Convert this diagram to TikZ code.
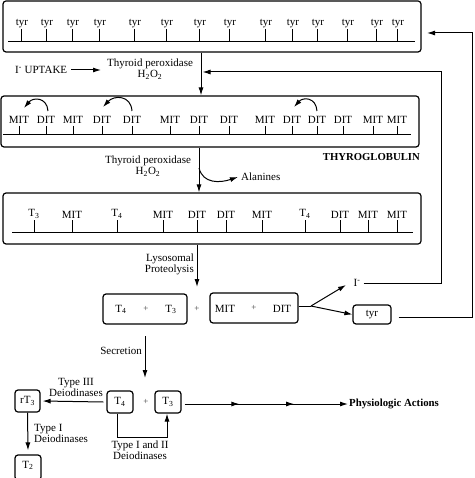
\documentclass[tikz,border=0pt]{standalone}
\usepackage{fontspec}
\setmainfont{Liberation Serif}
\usetikzlibrary{arrows.meta,calc,decorations.markings}
\begin{document}
\begin{tikzpicture}[x=1pt,y=-1pt,
  font=\fontsize{11}{12.5}\selectfont,
  lw/.style={line width=1pt},
  box/.style={draw,line width=1.2pt,rounded corners=3pt,inner sep=0pt},
  arr/.style={line width=1pt,-{Latex[length=8pt,width=5pt]}},
  lbl/.style={inner sep=0.5pt,anchor=south},
  txt/.style={inner sep=0pt,align=center},
  plus/.style={inner sep=0pt,font=\fontsize{9}{10}\selectfont,text=black!75},
]
\useasboundingbox (0,0) rectangle (474,478);

% ---------- Box 1: tyr chain ----------
\node[box,minimum width=418pt,minimum height=51pt] (tg1) at (212,26.5) {};
\draw[lw] (8,42) -- (415,42);
\foreach \x in {21,46,72,99,134,166,199,229,265,292,317,347,376,397}{
  \draw[lw] (\x,29) -- (\x,42);
  \node[lbl] (ty\x) at (\x+1,28.5) {tyr};
}

% ---------- between box 1 and 2 ----------
\coordinate (ax1) at (201,0);
\node[txt] (tp1) at (150,69) {Thyroid peroxidase\\[-1.5pt]H\textsubscript{2}O\textsubscript{2}};
\node[txt,anchor=west] (iup) at (15,70) {I\textsuperscript{-} UPTAKE};
\coordinate (iupend) at (101,70);
\draw[arr] (iup.east) ++(4,0) -- (iupend);

% ---------- Box 2 ----------
\node[box,minimum width=418pt,minimum height=51pt] (tg2) at (210,121.5) {};
\draw[arr] (tg1.south -| ax1) -- (tg2.north -| ax1);
\draw[lw] (3,135) -- (411,135);
\foreach \x/\l in {19/MIT,46/DIT,73/MIT,102/DIT,132/DIT,170/MIT,199/DIT,229/DIT,265/MIT,292/DIT,317/DIT,343/DIT,373/MIT,397/MIT}{
  \draw[lw] (\x,126) -- (\x,135);
  \node[lbl] (m\x) at (\x,124.5) {\l};
}
\draw[arr] (48,111) .. controls (47,97) and (33,97) .. (24,108);
\draw[arr] (132,111) .. controls (131,95) and (114,95) .. (103,107);
\draw[arr] (317,111) .. controls (316,97) and (303,97) .. (294,107);
\node[anchor=east,inner sep=0pt,font=\fontsize{10.7}{12}\selectfont\bfseries] (thg) at (420,157) {THYROGLOBULIN};

% ---------- between box 2 and 3 ----------
\coordinate (ax2) at (199,0);
\node[txt] (tp2) at (148,166.5) {Thyroid peroxidase\\[-1.5pt]H\textsubscript{2}O\textsubscript{2}};
\node[txt,anchor=west] (ala) at (241,177) {Alanines};
\coordinate (alastart) at (199,168);
\draw[arr] (alastart) .. controls (203,184) and (220,183) .. ($(ala.west)+(-3,0)$);

% ---------- Box 3 ----------
\node[box,minimum width=418pt,minimum height=51pt] (tg3) at (212,218.5) {};
\draw[arr] (tg2.south -| ax2) -- (tg3.north -| ax2);
\draw[lw] (12,232) -- (413,232);
\foreach \x/\l in {34/T\textsubscript{3},72/MIT,117/T\textsubscript{4},163/MIT,197/DIT,226/DIT,262/MIT,305/T\textsubscript{4},340/DIT,368/MIT,397/MIT}{
  \draw[lw] (\x,220) -- (\x,232);
  \node[lbl] (n\x) at (\x,219) {\l};
}

% ---------- Lysosomal proteolysis ----------
\coordinate (ax3) at (197,0);
\node[txt,align=right,anchor=east] (lys) at (194,264.5) {Lysosomal\\[-1.5pt]Proteolysis};
\node[plus] (plus1) at (197,309) {+};
\coordinate (lysend) at (197,287);
\draw[arr] (tg3.south -| ax3) -- (lysend);

% ---------- Box 4 & 5 ----------
\node[box,minimum width=84pt,minimum height=30pt] (ttbox) at (145,309) {};
\node[inner sep=0pt] (t4a) at (121,309.5) {T\textsubscript{4}};
\node[plus] (p4) at (146,309) {+};
\node[inner sep=0pt] (t3a) at (171,309.5) {T\textsubscript{3}};

\node[box,minimum width=88pt,minimum height=30pt] (mdbox) at (254,308) {};
\node[inner sep=0pt] (mit5) at (225,308.5) {MIT};
\node[plus] (p5) at (254,308) {+};
\node[inner sep=0pt] (dit5) at (282,308.5) {DIT};

% ---------- branch ----------
\coordinate (branch) at (311,306);
\node[inner sep=0pt] (iminus) at (357,283) {I\textsuperscript{-}};
\node[box,minimum width=38pt,minimum height=19pt] (tyrbox) at (372,314.5) {tyr};
\draw[lw] (mdbox.east |- branch) -- (branch);
\draw[arr] (branch) -- (346,285);
\draw[arr] (branch) -- (tyrbox.west);

% ---------- feedback lines ----------
\coordinate (fbI) at (441,72);
\coordinate (fbIend) at (202.5,72);
\draw[arr] ($(iminus.east)+(3,0)$) -| (fbI) -- (fbIend);
\coordinate (fbT) at (472,33);
\coordinate (fbTend) at (427,33);
\draw[arr] ($(tyrbox.east)+(7,2.5)$) -| (fbT) -- (fbTend);

% ---------- Secretion ----------
\node[txt,anchor=east] (sec) at (142,351) {Secretion};
\coordinate (secstart) at (145,336);
\coordinate (secend) at (145,378);
\draw[arr] (secstart) -- (secend);

% ---------- bottom row ----------
\node[box,minimum width=25pt,minimum height=22pt] (rt3) at (27.5,401) {rT\textsubscript{3}};
\node[box,minimum width=26pt,minimum height=22pt] (t4b) at (120,402) {T\textsubscript{4}};
\node[plus] (p6) at (146,402) {+};
\node[box,minimum width=26pt,minimum height=22pt] (t3b) at (168,402) {T\textsubscript{3}};
\node[box,minimum width=26pt,minimum height=25pt] (t2) at (28,467.5) {};
\node[inner sep=0pt] (t2txt) at (28,465.5) {T\textsubscript{2}};

\draw[arr] ($(t4b.west)+(-3,0)$) -- ($(rt3.east)+(2,0)$);
\node[txt] (d3) at (76,387.5) {Type III\\[-1.5pt]Deiodinases};

\draw[arr] (rt3.south) -- ($(t2.north)+(0,-4)$);
\node[txt,align=left,anchor=west] (d1) at (34,433) {Type I\\[-1.5pt]Deiodinases};

\draw[arr] ($(t4b.south)+(-3,0)$) -- ++(0,24) -| ($(t3b.south)+(-1,0)$);
\node[txt] (d12) at (140,450.5) {Type I and II\\[-1.5pt]Deiodinases};

\node[anchor=west,inner sep=1pt,font=\fontsize{10.8}{12}\selectfont\bfseries] (phys) at (348,404) {Physiologic Actions};
\draw[arr,
  decoration={markings,
    mark=at position 0.335 with {\arrow{Latex[length=8pt,width=5pt]}},
    mark=at position 0.67 with {\arrow{Latex[length=8pt,width=5pt]}}},
  postaction={decorate}]
  ($(t3b.east)+(3,2)$) -- (phys.west);
\end{tikzpicture}
\end{document}
